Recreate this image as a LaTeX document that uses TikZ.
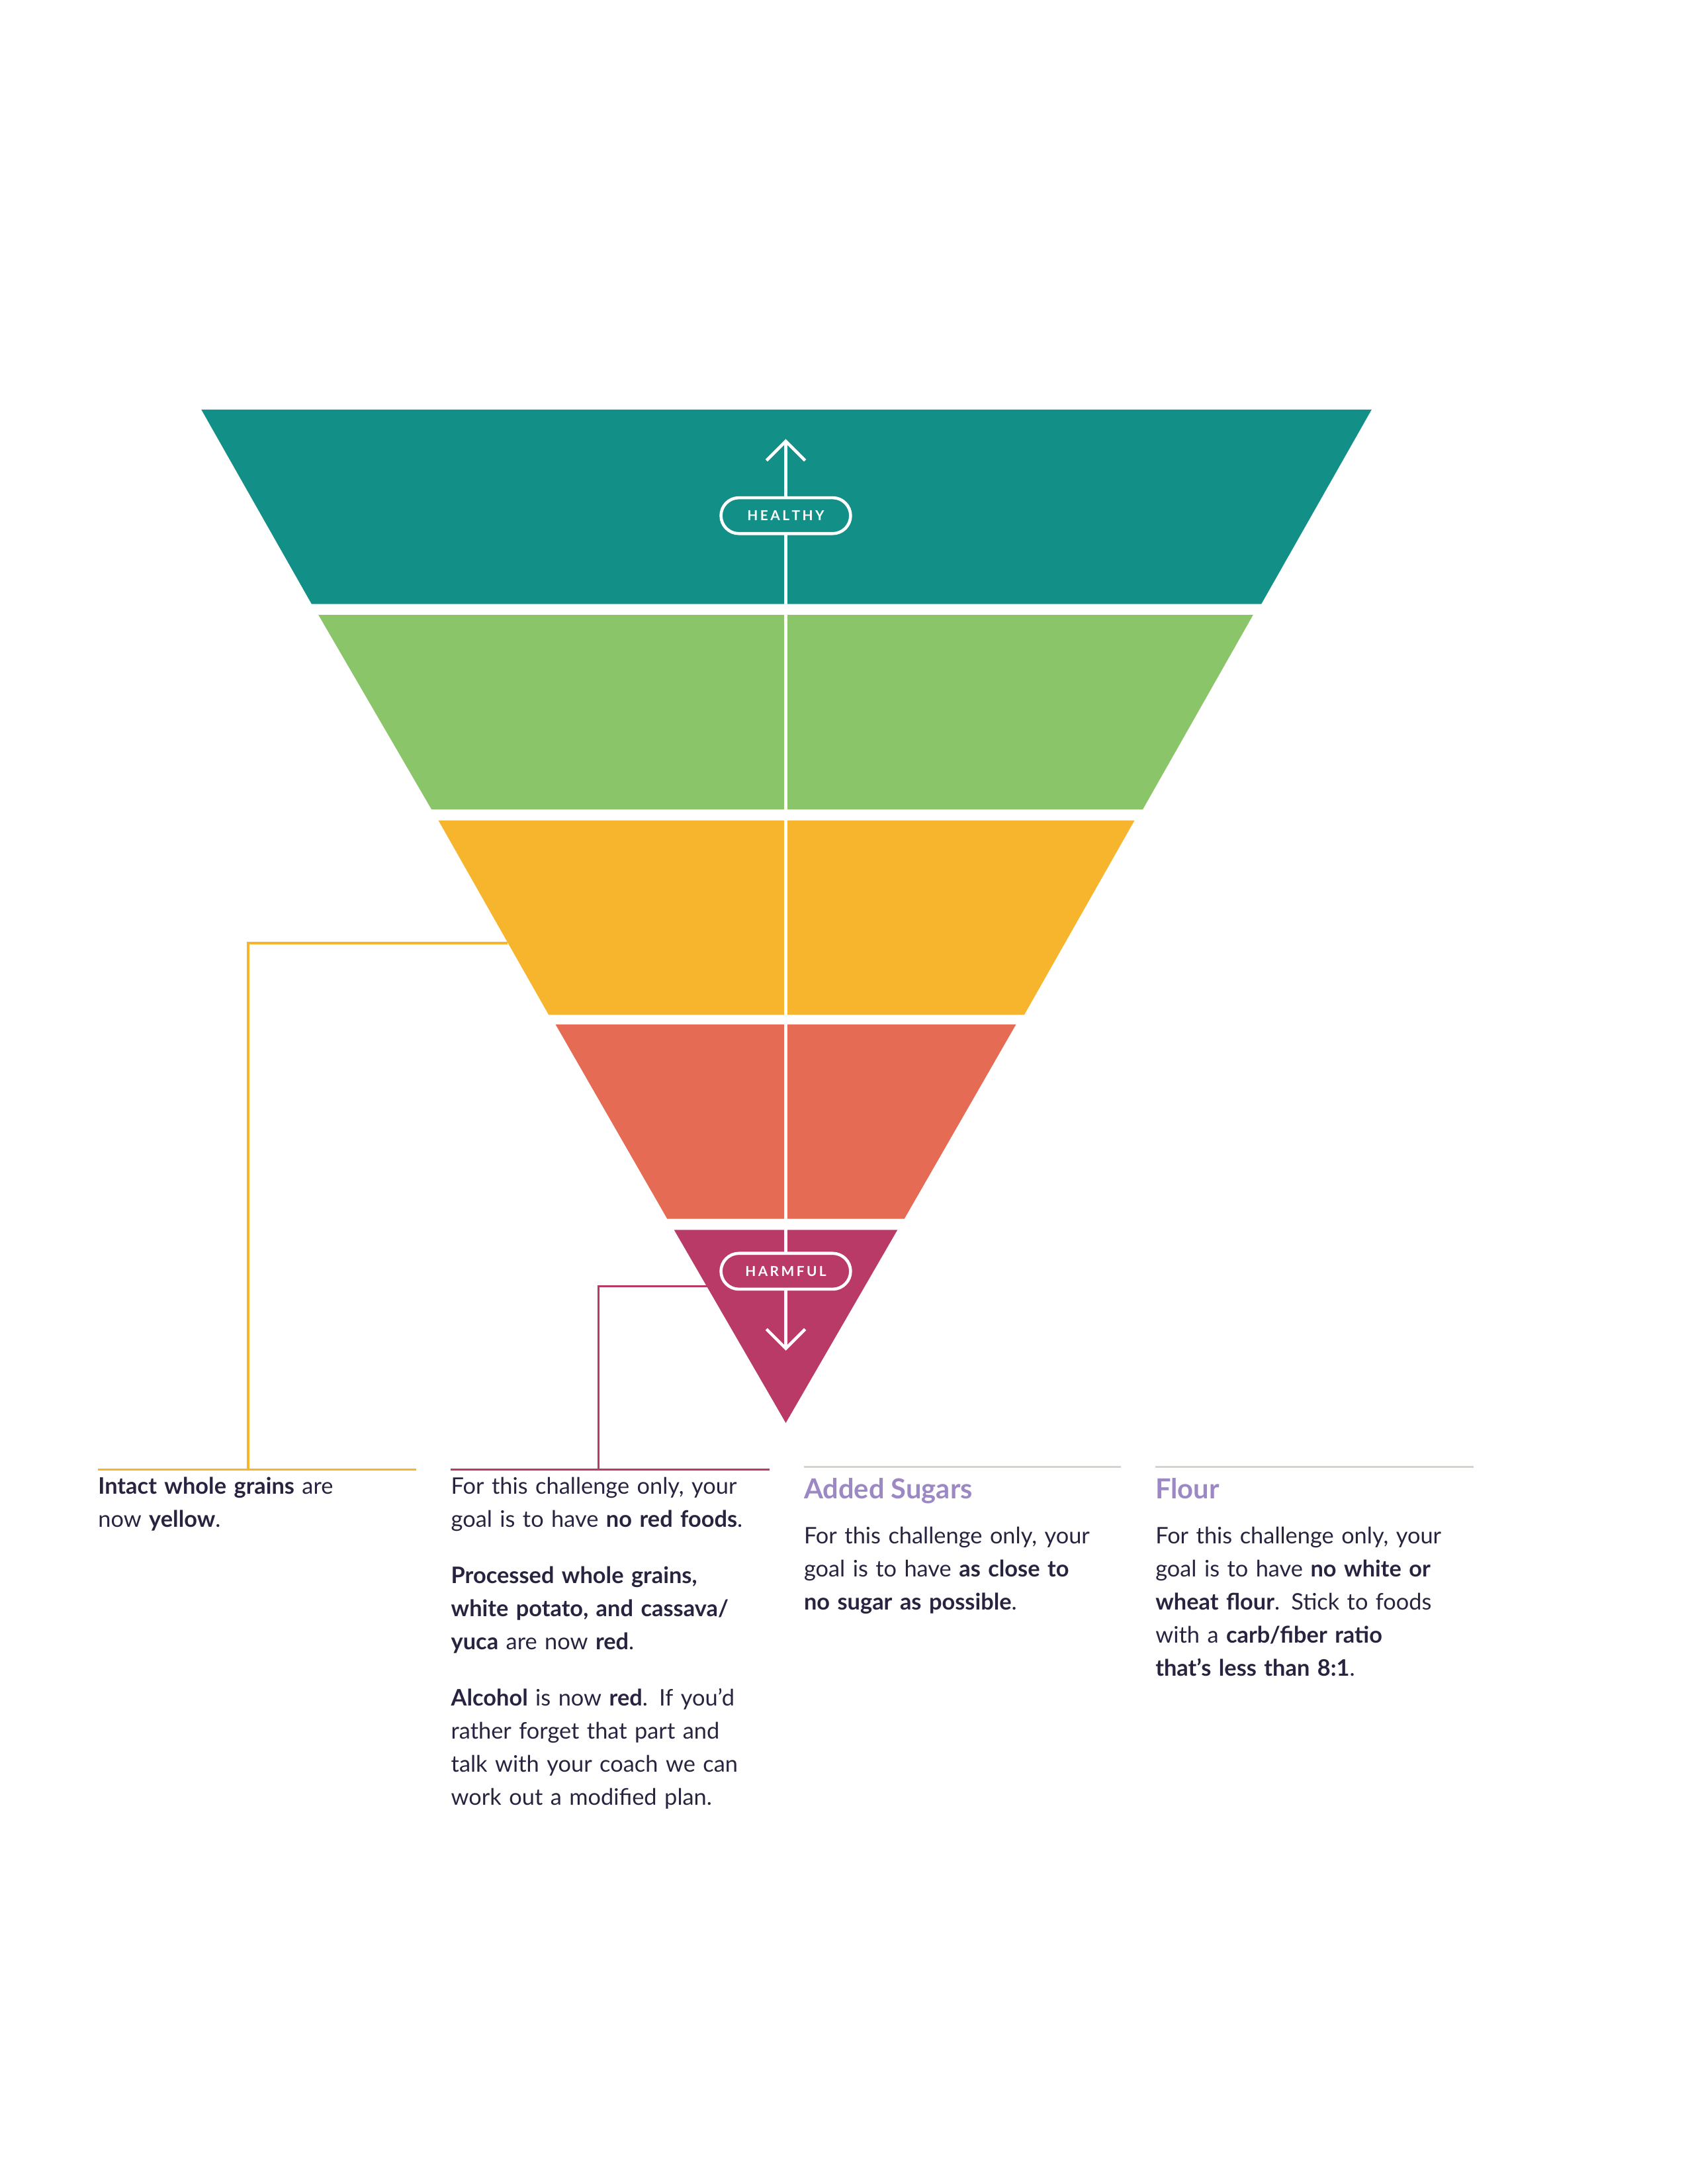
\documentclass[tikz,border=0pt]{standalone}
\usepackage{fontspec}
\setmainfont{Lato}
\definecolor{teal}{HTML}{128F87}
\definecolor{grn}{HTML}{8BC56A}
\definecolor{yel}{HTML}{F7B52E}
\definecolor{org}{HTML}{E56B55}
\definecolor{mag}{HTML}{B93A66}
\definecolor{pur}{HTML}{9B88C4}
\definecolor{txt}{HTML}{2A2340}
\definecolor{gry}{HTML}{D8D2CC}
\begin{document}
\begin{tikzpicture}[x=1pt,y=-1pt,
  pill/.style={draw=white,line width=2.2pt,rounded corners=13pt,minimum width=94pt,minimum height=26pt,inner sep=0pt,font=\fontsize{10}{10}\selectfont\bfseries,text=white},
  body/.style={anchor=north west,inner sep=0pt,text width=240pt,align=left,font=\fontsize{16.5}{24}\selectfont,text=txt},
  head/.style={anchor=north west,inner sep=0pt,font=\fontsize{20}{24}\selectfont\bfseries,text=pur}]
\useasboundingbox (0,0) rectangle (1224,1584);
\fill[teal] (146,297) -- (995,297) -- (915,438) -- (226,438) -- cycle;
\fill[grn] (231,446) -- (909,446) -- (829,587) -- (313,587) -- cycle;
\fill[yel] (318,595) -- (823,595) -- (743,736) -- (398,736) -- cycle;
\fill[org] (403,743) -- (737,743) -- (656,884) -- (484,884) -- cycle;
\fill[mag] (489,892) -- (651,892) -- (570,1032) -- cycle;
\coordinate (top) at (570,320);
\coordinate (bot) at (570,978);
\draw[white,line width=2.2pt] (top) -- (bot);
\draw[white,line width=2.2pt] (556,334) -- (top) -- (584,334);
\draw[white,line width=2.2pt] (556,964) -- (bot) -- (584,964);
\node[pill,fill=teal] (healthy) at (570,374) {H\,E\,A\,L\,T\,H\,Y};
\node[pill,fill=mag] (harmful) at (570,922) {H\,A\,R\,M\,F\,U\,L};
\coordinate (y1) at (368,684); \coordinate (y2) at (180,1066);
\draw[yel,line width=1.5pt] (y1) -- (y1 -| y2) -- (y2);
\draw[yel,line width=1.5pt] (71,1066) -- (302,1066);
\coordinate (r1) at (513,933); \coordinate (r2) at (434,1066);
\draw[mag,line width=1.5pt] (r1) -- (r1 -| r2) -- (r2);
\draw[mag,line width=1.5pt] (327,1066) -- (558,1066);
\draw[gry,line width=1.5pt] (583,1064) -- (813,1064);
\draw[gry,line width=1.5pt] (838,1064) -- (1069,1064);
\node[body] (c1) at (71,1071) {\textbf{Intact whole grains} are\\ now \textbf{yellow}.};
\node[body] (c2) at (327,1071) {For this challenge only, your\\ goal is to have \textbf{no red foods}.\\[17pt]
\textbf{Processed whole grains,}\\ \textbf{white potato, and cassava/}\\ \textbf{yuca} are now \textbf{red}.\\[17pt]
\textbf{Alcohol} is now \textbf{red}. If you’d\\ rather forget that part and\\ talk with your coach we can\\ work out a modified plan.};
\node[head] (h3) at (583,1072) {Added Sugars};
\node[body] (c3) at (583,1107) {For this challenge only, your\\ goal is to have \textbf{as close to}\\ \textbf{no sugar as possible}.};
\node[head] (h4) at (838,1072) {Flour};
\node[body] (c4) at (838,1107) {For this challenge only, your\\ goal is to have \textbf{no white or}\\ \textbf{wheat flour}. Stick to foods\\ with a \textbf{carb/fiber ratio}\\ \textbf{that’s less than 8:1}.};
\end{tikzpicture}
\end{document}
